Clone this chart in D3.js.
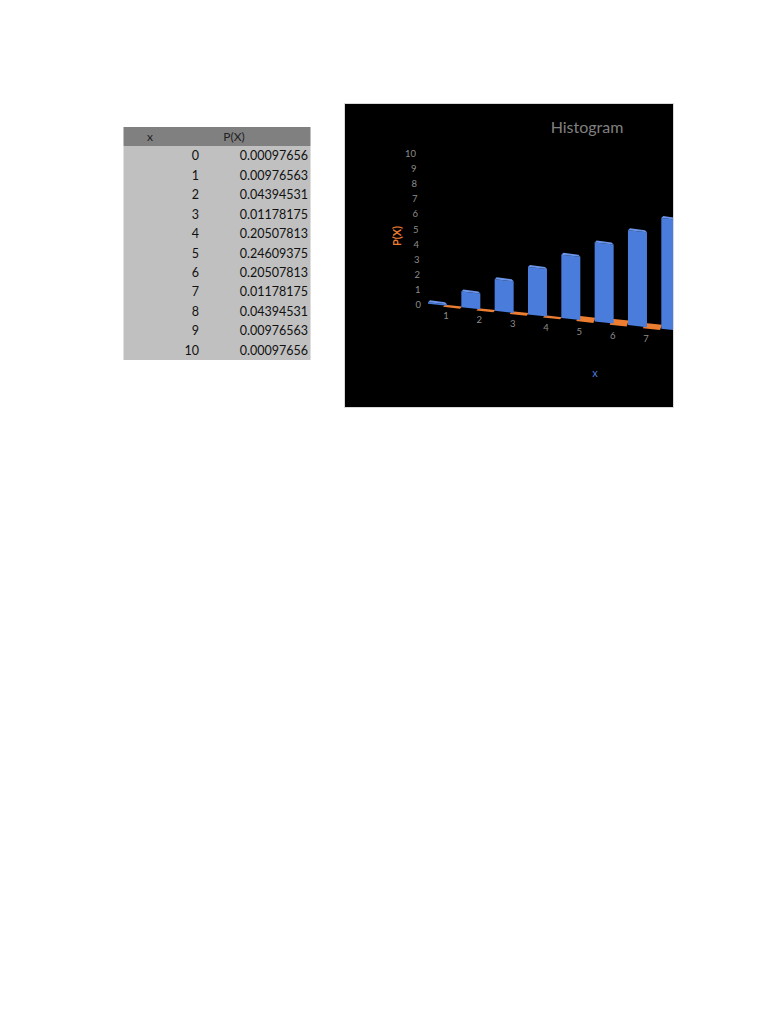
<!DOCTYPE html>
<html>
<head>
<meta charset="utf-8">
<script src="https://cdn.jsdelivr.net/npm/d3@7"></script>
<style>
  body { margin: 0; background: #fff; }
  svg { display: block; }
</style>
</head>
<body>
<div id="canvas"></div>
<script>
const xVals = [0, 1, 2, 3, 4, 5, 6, 7, 8, 9, 10];
const pVals = [0.00097656, 0.00976563, 0.04394531, 0.01178175, 0.20507813, 0.24609375,
  0.20507813, 0.01178175, 0.04394531, 0.00976563, 0.00097656];
const pLabels = ["0.00097656", "0.00976563", "0.04394531", "0.01178175", "0.20507813", "0.24609375",
  "0.20507813", "0.01178175", "0.04394531", "0.00976563", "0.00097656"];
const categories = ["1", "2", "3", "4", "5", "6", "7", "8", "9", "10", "11"];
const yTicks = [0, 1, 2, 3, 4, 5, 6, 7, 8, 9, 10];

const svg = d3.select("#canvas")
  .append("svg")
  .attr("width", 768)
  .attr("height", 1024);

const font = "Lato, 'Open Sans', sans-serif";

// ---- table ----
const tbl = svg.append("g");
const rowY = d3.scaleBand().domain(d3.range(xVals.length)).range([146, 360]);

tbl.append("rect").attr("x", 123.5).attr("y", 127).attr("width", 187).attr("height", 19)
  .attr("fill", "#808080");
tbl.append("rect").attr("x", 123.5).attr("y", 146).attr("width", 187).attr("height", 214)
  .attr("fill", "#c0c0c0");
tbl.append("text").attr("x", 150).attr("y", 141).attr("text-anchor", "middle")
  .attr("font-family", font).attr("font-size", 12).attr("fill", "#222").text("x");
tbl.append("text").attr("x", 234).attr("y", 141).attr("text-anchor", "middle")
  .attr("font-family", font).attr("font-size", 12).attr("fill", "#222").text("P(X)");

tbl.selectAll(".xv").data(xVals).join("text")
  .attr("x", 199).attr("y", (d, i) => rowY(i) + rowY.bandwidth() / 2 + 4.5)
  .attr("text-anchor", "end").attr("font-family", font).attr("font-size", 12.5)
  .attr("fill", "#111").text(d => d);
tbl.selectAll(".pv").data(pLabels).join("text")
  .attr("x", 308).attr("y", (d, i) => rowY(i) + rowY.bandwidth() / 2 + 4.5)
  .attr("text-anchor", "end").attr("font-family", font).attr("font-size", 12.5)
  .attr("fill", "#111").text(d => d);

// ---- chart ----
const chart = svg.append("g");
chart.append("rect").attr("x", 344.5).attr("y", 103.5).attr("width", 329).attr("height", 304)
  .attr("fill", "#000").attr("stroke", "#d9d9d9");

chart.append("text").attr("x", 587).attr("y", 133).attr("text-anchor", "middle")
  .attr("font-family", font).attr("font-size", 16).attr("fill", "#808080").text("Histogram");

svg.append("defs").append("clipPath").attr("id", "plotclip")
  .append("rect").attr("x", 345).attr("y", 104).attr("width", 328).attr("height", 303);

// category position (front edge) and sloping floor
const xCat = d3.scalePoint().domain(categories).range([446, 446 + 33.33 * 10]);
const floorY = d3.scaleLinear().domain([440, 780]).range([305, 305 + 0.107 * 340]);
const barH = d3.scaleLinear().domain([0, 10]).range([0, 158]);
const yAxisScale = d3.scaleLinear().domain([0, 10]).range([305, 154]);

const plot = chart.append("g").attr("clip-path", "url(#plotclip)");

// orange series (P(X)) lies on the floor
plot.selectAll(".pbar").data(pVals).join("path")
  .attr("fill", "#ed7d31")
  .attr("d", (d, i) => {
    const x0 = xCat(categories[i]) - 3, x1 = xCat(categories[i]) + 14;
    const b0 = floorY(x0) + 1.5, b1 = floorY(x1) + 1.5;
    const h = 2 + barH(d);
    return `M${x0},${b0}L${x1},${b1}L${x1 + 2},${b1 - h}L${x0 + 2},${b0 - h}Z`;
  });

// blue series (x) columns
const bars = plot.selectAll(".xbar").data(xVals).join("g");
bars.append("path")
  .attr("fill", "#4a7cdb")
  .attr("d", (d, i) => {
    const x0 = xCat(categories[i]) - 18, x1 = xCat(categories[i]) + 1;
    const b0 = floorY(x0), b1 = floorY(x1);
    const h = Math.max(1.5, barH(d));
    return `M${x0},${b0}L${x1},${b1}L${x1},${b1 - h}L${x0},${b0 - h}Z`;
  });
bars.append("path")
  .attr("fill", "#6a95ea")
  .attr("d", (d, i) => {
    const x0 = xCat(categories[i]) - 18, x1 = xCat(categories[i]) + 1;
    const h = Math.max(1.5, barH(d));
    const t0 = floorY(x0) - h, t1 = floorY(x1) - h;
    return `M${x0},${t0}L${x1},${t1}L${x1 - 2},${t1 - 2}L${x0 + 2},${t0 - 2}Z`;
  });

// y axis labels (slightly slanted in perspective)
const yAxis = chart.append("g")
  .attr("transform", "translate(421,0)")
  .call(d3.axisLeft(yAxisScale).tickValues(yTicks).tickSize(0).tickPadding(0));
yAxis.select(".domain").remove();
yAxis.selectAll(".tick")
  .attr("transform", d => `translate(${-0.5 * d},${yAxisScale(d)})`);
yAxis.selectAll(".tick text")
  .attr("font-family", font).attr("font-size", 9.5).attr("fill", "#8c8c8c");

chart.append("text")
  .attr("transform", "translate(401,236) rotate(-90)")
  .attr("text-anchor", "middle")
  .attr("font-family", font).attr("font-size", 11).attr("font-weight", "bold")
  .attr("fill", "#ed7d31").text("P(X)");

// x category labels following the floor (only those inside the chart frame)
plot.selectAll(".xlab").data(categories.filter(d => xCat(d) < 665)).join("text")
  .attr("x", d => xCat(d))
  .attr("y", (d, i) => 319 + 3.9 * i)
  .attr("text-anchor", "middle")
  .attr("font-family", font).attr("font-size", 9.5).attr("fill", "#8c8c8c")
  .text(d => d);

chart.append("text").attr("x", 595).attr("y", 377).attr("text-anchor", "middle")
  .attr("font-family", font).attr("font-size", 11).attr("fill", "#4a7cdb").text("x");
</script>
</body>
</html>
